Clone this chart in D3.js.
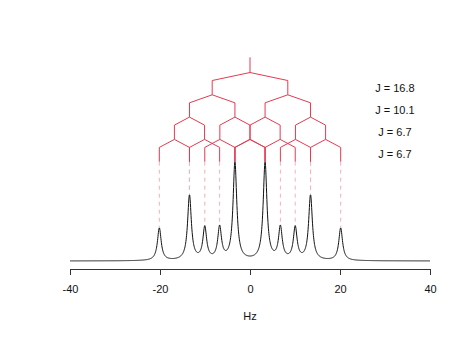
<!DOCTYPE html>
<html>
<head>
<meta charset="utf-8">
<script src="https://cdn.jsdelivr.net/npm/d3@7"></script>
<style>
  html, body { margin: 0; padding: 0; background: #fff; }
  svg { display: block; font-family: "Liberation Sans", Arial, sans-serif; }
</style>
</head>
<body>
<svg id="chart" width="474" height="338"></svg>
<script>
// ---- data ----
const couplings = [16.8, 10.1, 6.7, 6.7];        // J values (Hz), one per tree level
const couplingLabels = ["J = 16.8", "J = 10.1", "J = 6.7", "J = 6.7"];
const centerShift = 0;                           // Hz
const halfWidth = 0.5;                           // Lorentzian half width (Hz)
const xTicks = [-40, -20, 0, 20, 40];
const xDomain = [-40, 40];
const xLabel = "Hz";

// ---- derived tree ----
const levels = [[centerShift]];
couplings.forEach((J, i) => {
  const next = [];
  levels[i].forEach(p => { next.push(p - J / 2, p + J / 2); });
  levels.push(next);
});
const finalLines = levels[couplings.length];

function specAt(xv) {
  let s = 0;
  finalLines.forEach(p => { s += 1 / (1 + ((xv - p) / halfWidth) ** 2); });
  return s;
}
const nSamples = 1601;
const spectrum = d3.range(nSamples).map(i => {
  const xv = xDomain[0] + (xDomain[1] - xDomain[0]) * i / (nSamples - 1);
  return [xv, specAt(xv)];
});

// ---- scales ----
const svg = d3.select("#chart");
const x = d3.scaleLinear().domain(xDomain).range([70, 430]);
const y = d3.scaleLinear().domain([0, 1]).range([261, 228.5]);
const yTree = d3.scaleLinear().domain([0, couplings.length]).range([72.5, 161.7]);
const diagFrac = 0.36;

const red = "#e53a50";
const pink = "#f5b0b9";

// ---- spectrum ----
svg.append("path")
  .datum(spectrum)
  .attr("fill", "none")
  .attr("stroke", "#111")
  .attr("stroke-width", 1)
  .attr("d", d3.line().x(d => x(d[0])).y(d => y(d[1])));

// ---- dashed guides ----
svg.append("g").selectAll("line")
  .data(finalLines)
  .join("line")
  .attr("x1", d => x(d)).attr("x2", d => x(d))
  .attr("y1", yTree(couplings.length))
  .attr("y2", d => y(specAt(d)))
  .attr("stroke", pink)
  .attr("stroke-width", 1)
  .attr("stroke-dasharray", "4,4");

// ---- splitting tree ----
const tree = svg.append("g").attr("stroke", red).attr("fill", "none").attr("stroke-width", 1);
tree.append("line")
  .attr("x1", x(centerShift)).attr("x2", x(centerShift))
  .attr("y1", yTree(-0.68)).attr("y2", yTree(0));
couplings.forEach((J, i) => {
  levels[i].forEach(p => {
    [p - J / 2, p + J / 2].forEach(c => {
      tree.append("path")
        .attr("d", d3.line()([
          [x(p), yTree(i)],
          [x(c), yTree(i + diagFrac)],
          [x(c), yTree(i + 1)]
        ]));
    });
  });
});

// ---- J labels ----
svg.append("g").selectAll("text")
  .data(couplingLabels)
  .join("text")
  .attr("x", x(32.2))
  .attr("y", (d, i) => yTree(i + 0.68))
  .attr("dy", "0.35em")
  .attr("text-anchor", "middle")
  .attr("font-size", 11)
  .attr("fill", "#111")
  .text(d => d);

// ---- axis ----
const axis = svg.append("g")
  .attr("transform", "translate(0,269)")
  .call(d3.axisBottom(x).tickValues(xTicks).tickSize(6).tickPadding(10).tickFormat(d3.format("d")));
axis.select(".domain").attr("stroke", "#333");
axis.selectAll(".tick line").attr("stroke", "#333");
axis.selectAll(".tick text")
  .attr("font-size", 11)
  .attr("font-family", "Liberation Sans, Arial, sans-serif")
  .attr("fill", "#111")
  .text(d => d < 0 ? "-" + Math.abs(d) : d);

svg.append("text")
  .attr("x", x(0))
  .attr("y", 316)
  .attr("dy", "0.35em")
  .attr("text-anchor", "middle")
  .attr("font-size", 11)
  .attr("fill", "#111")
  .text(xLabel);
</script>
</body>
</html>
